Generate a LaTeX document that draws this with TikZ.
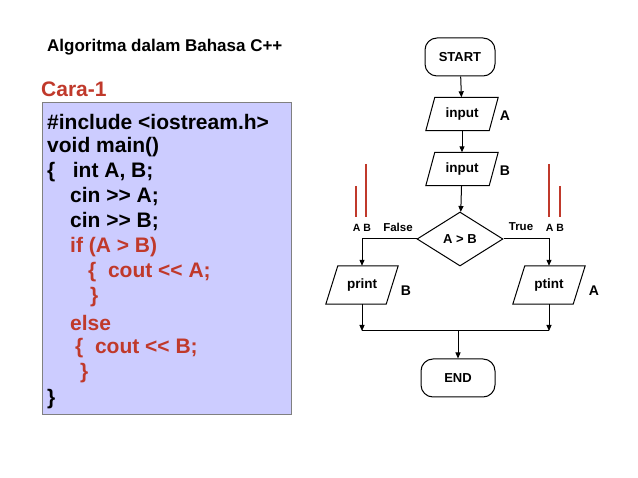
\documentclass[tikz,border=0pt]{standalone}
\usepackage{fontspec}
\setmainfont{Liberation Sans}
\usetikzlibrary{shapes.geometric,arrows.meta}
\definecolor{codered}{HTML}{C0392B}
\definecolor{lav}{HTML}{CCCCFF}
\begin{document}
\begin{tikzpicture}[x=1pt,y=-1pt,
  fl/.style={draw,line width=1pt,font=\fontsize{13}{15}\selectfont\bfseries,inner sep=0pt},
  term/.style={fl,rounded corners=12pt,minimum width=70pt,minimum height=38pt},
  io/.style={inner sep=0pt,font=\fontsize{13.5}{15}\selectfont\bfseries,minimum width=72pt,minimum height=33pt},
  pg/.style={line width=1pt},
  lbl/.style={font=\fontsize{14}{16}\selectfont\bfseries,inner sep=0pt},
  sm/.style={font=\fontsize{10.5}{12}\selectfont\bfseries,inner sep=0pt},
  arr/.style={line width=1pt,-{Triangle[length=6pt,width=5pt]}},
  ln/.style={line width=1pt},
  bar/.style={draw=codered,line width=2.2pt},
  code/.style={font=\fontsize{21}{23}\selectfont\bfseries,anchor=west,inner sep=0pt}]
\useasboundingbox (0,0) rectangle (638,478);
\node[anchor=west,inner sep=0pt,font=\fontsize{17}{19}\selectfont\bfseries] (title) at (47,47) {Algoritma dalam Bahasa C++};
\node[anchor=west,inner sep=0pt,font=\fontsize{21}{23}\selectfont\bfseries,text=codered] (cara) at (41,89) {Cara-1};
\draw[fill=lav,draw=gray,line width=0.8pt] (42,102) rectangle (291,414);
\node[code] (c1) at (47,122) {\#include {<}iostream.h{>}};
\node[code] (c2) at (47,147) {void main()};
\node[code] (c3) at (47,172) {\{~~ int A, B;};
\node[code] (c4) at (70,197) {cin {>}{>} A;};
\node[code] (c5) at (70,222) {cin {>}{>} B;};
\node[code,text=codered] (c6) at (70,247) {if (A {>} B)};
\node[code,text=codered] (c7) at (88,272) {\{~~cout {<}{<} A;};
\node[code,text=codered] (c8) at (90,297) {\}};
\node[code,text=codered] (c9) at (70,323) {else};
\node[code,text=codered] (c10) at (75,348) {\{~~cout {<}{<} B;};
\node[code,text=codered] (c11) at (80,373) {\}};
\node[code] (c12) at (47,399) {\}};

\node[term] (start) at (460,57) {START};
\node[io] (inA) at (462,114) {input};
\draw[pg] ([xshift=9pt]inA.north west) -- (inA.north east) -- ([xshift=-9pt]inA.south east) -- (inA.south west) -- cycle;
\node[lbl] (lA) at (505,116) {A};
\node[io] (inB) at (462,169) {input};
\draw[pg] ([xshift=9pt]inB.north west) -- (inB.north east) -- ([xshift=-9pt]inB.south east) -- (inB.south west) -- cycle;
\node[lbl] (lB) at (505,171) {B};
\node[fl,diamond,minimum width=86pt,minimum height=54pt] (dec) at (460,239) {A > B};
\node[lbl,font=\fontsize{11.5}{13}\selectfont\bfseries] (fal) at (398,227) {False};
\node[lbl,font=\fontsize{11.5}{13}\selectfont\bfseries] (tru) at (521,227) {True};
\node[sm] (abl) at (362,228) {A B};
\node[sm] (abr) at (555,228) {A B};
\draw[bar] (356,186) -- (356,217);
\draw[bar] (366,164) -- (366,217);
\draw[bar] (549,164) -- (549,217);
\draw[bar] (560,186) -- (560,217);
\node[io,minimum height=38pt] (pr) at (362,285) {print};
\draw[pg] ([xshift=12pt]pr.north west) -- (pr.north east) -- ([xshift=-12pt]pr.south east) -- (pr.south west) -- cycle;
\node[lbl] (lpB) at (406,291) {B};
\node[io,minimum height=38pt] (pt) at (549,285) {ptint};
\draw[pg] ([xshift=12pt]pt.north west) -- (pt.north east) -- ([xshift=-12pt]pt.south east) -- (pt.south west) -- cycle;
\node[lbl] (lpA) at (594,291) {A};
\node[term,minimum width=74pt] (end) at (458,378) {END};
\coordinate (jl) at (362,331);
\coordinate (jr) at (549,331);
\coordinate (jm) at (458,331);
\draw[arr] (start) -- (inA);
\draw[arr] (inA) -- (inB);
\draw[arr] (inB) -- (dec);
\draw[arr] (dec.west) -| (pr.north);
\draw[arr] (dec.east) -| (pt.north);
\draw[arr] (pr.south) -- (jl);
\draw[arr] (pt.south) -- (jr);
\draw[ln] (jl) -- (jr);
\draw[arr] (jm) -- (end);
\end{tikzpicture}
\end{document}
